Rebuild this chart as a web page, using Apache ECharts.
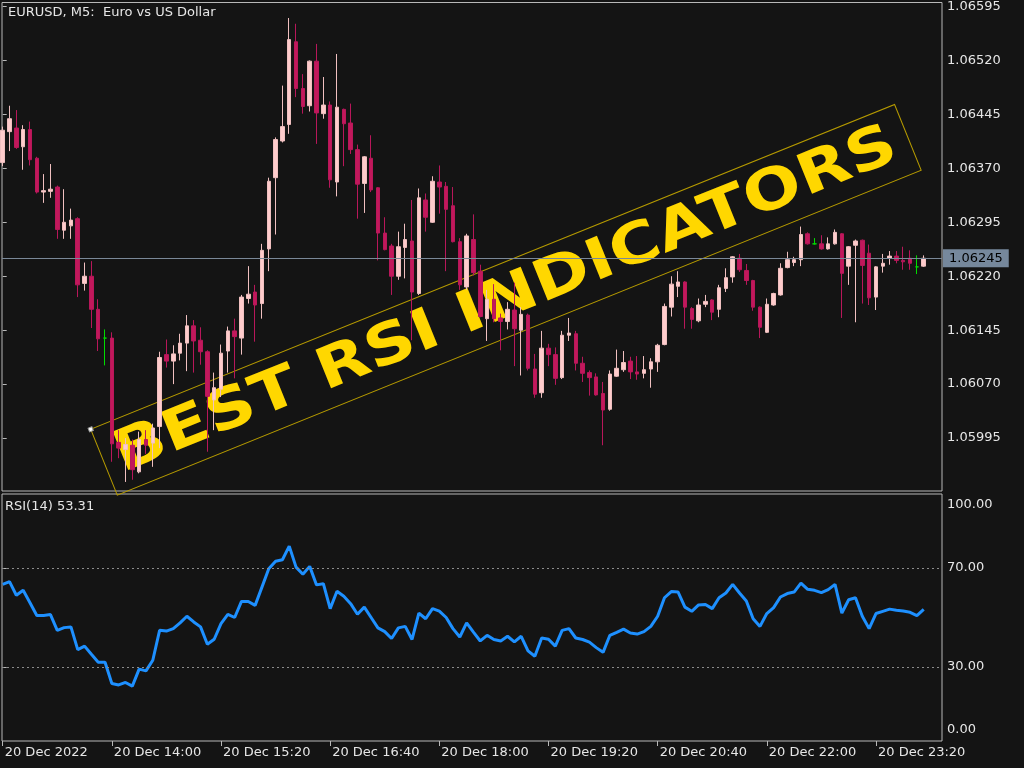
<!DOCTYPE html>
<html><head><meta charset="utf-8">
<style>html,body{margin:0;padding:0;background:#141414;}#c{width:1024px;height:768px;}</style>
<script src="https://cdn.jsdelivr.net/npm/echarts/dist/echarts.min.js"></script>
</head><body><div id="c"></div><script>
// EURUSD M5, 20 Dec 2022 12:40 .. 23:55 (136 bars)
const open = [
1.06378,1.06421,1.06426,1.06400,1.06424,1.06384,1.06337,1.06338,1.06344,1.06284,
1.06290,1.06300,1.06210,1.06220,1.06174,1.06134,1.06134,1.05989,1.05979,1.05985,
1.05948,1.05993,1.05988,1.06011,1.06111,1.06102,1.06113,1.06127,1.06151,1.06131,
1.06115,1.06048,1.06063,1.06116,1.06144,1.06134,1.06189,1.06198,1.06182,1.06258,
1.06357,1.06408,1.06431,1.06546,1.06481,1.06457,1.06519,1.06446,1.06458,1.06351,
1.06452,1.06433,1.06396,1.06349,1.06384,1.06343,1.06280,1.06262,1.06220,1.06260,
1.06269,1.06196,1.06326,1.06295,1.06351,1.06345,1.06318,1.06268,1.06205,1.06271,
1.06227,1.06161,1.06188,1.06162,1.06157,1.06173,1.06145,1.06166,1.06091,1.06058,
1.06120,1.06111,1.06079,1.06138,1.06140,1.06099,1.06086,1.06080,1.06057,1.06035,
1.06081,1.06090,1.06102,1.06087,1.06085,1.06091,1.06101,1.06125,1.06177,1.06206,
1.06212,1.06175,1.06158,1.06181,1.06187,1.06174,1.06203,1.06219,1.06245,1.06228,
1.06214,1.06177,1.06142,1.06180,1.06194,1.06232,1.06239,1.06243,1.06279,1.06265,
1.06265,1.06258,1.06265,1.06279,1.06234,1.06263,1.06270,1.06252,1.06191,1.06234,
1.06245,1.06248,1.06242,1.06245,1.06233,1.06234];
const close = [
1.06423,1.06439,1.06399,1.06424,1.06382,1.06337,1.06339,1.06341,1.06285,1.06295,
1.06298,1.06208,1.06220,1.06174,1.06133,1.06134,1.05987,1.05981,1.05986,1.05951,
1.05993,1.05985,1.06009,1.06107,1.06102,1.06112,1.06127,1.06151,1.06130,1.06115,
1.06053,1.06065,1.06113,1.06144,1.06136,1.06191,1.06195,1.06180,1.06256,1.06352,
1.06410,1.06428,1.06549,1.06481,1.06456,1.06519,1.06447,1.06458,1.06354,1.06455,
1.06432,1.06396,1.06348,1.06386,1.06340,1.06280,1.06257,1.06220,1.06261,1.06271,
1.06198,1.06329,1.06302,1.06352,1.06344,1.06313,1.06268,1.06208,1.06276,1.06225,
1.06164,1.06188,1.06161,1.06157,1.06174,1.06147,1.06167,1.06092,1.06056,1.06120,
1.06111,1.06078,1.06138,1.06141,1.06099,1.06085,1.06079,1.06055,1.06034,1.06084,
1.06092,1.06100,1.06087,1.06084,1.06090,1.06101,1.06124,1.06178,1.06209,1.06212,
1.06177,1.06160,1.06180,1.06185,1.06170,1.06204,1.06218,1.06247,1.06229,1.06214,
1.06177,1.06149,1.06181,1.06196,1.06231,1.06243,1.06243,1.06278,1.06265,1.06265,
1.06258,1.06265,1.06281,1.06224,1.06261,1.06269,1.06235,1.06190,1.06233,1.06238,
1.06248,1.06242,1.06240,1.06238,1.06233,1.06245];
const high = [
1.06428,1.06457,1.06451,1.06430,1.06435,1.06386,1.06362,1.06376,1.06346,1.06341,
1.06314,1.06302,1.06239,1.06241,1.06188,1.06146,1.06142,1.06006,1.05995,1.05993,
1.06004,1.06006,1.06015,1.06115,1.06132,1.06124,1.06140,1.06166,1.06159,1.06149,
1.06117,1.06086,1.06125,1.06150,1.06161,1.06194,1.06234,1.06208,1.06265,1.06357,
1.06413,1.06485,1.06579,1.06571,1.06501,1.06520,1.06543,1.06497,1.06463,1.06529,
1.06453,1.06460,1.06403,1.06387,1.06416,1.06344,1.06302,1.06265,1.06282,1.06293,
1.06326,1.06342,1.06335,1.06359,1.06374,1.06351,1.06344,1.06273,1.06279,1.06306,
1.06236,1.06201,1.06209,1.06168,1.06184,1.06211,1.06177,1.06168,1.06112,1.06144,
1.06126,1.06121,1.06144,1.06162,1.06144,1.06108,1.06089,1.06085,1.06073,1.06089,
1.06118,1.06116,1.06108,1.06109,1.06109,1.06106,1.06126,1.06182,1.06220,1.06227,
1.06213,1.06177,1.06189,1.06194,1.06188,1.06208,1.06231,1.06248,1.06251,1.06237,
1.06215,1.06178,1.06189,1.06197,1.06238,1.06254,1.06247,1.06289,1.06281,1.06273,
1.06277,1.06274,1.06285,1.06280,1.06262,1.06271,1.06271,1.06264,1.06234,1.06251,
1.06255,1.06255,1.06261,1.06256,1.06249,1.06249];
const low = [
1.06373,1.06394,1.06397,1.06368,1.06374,1.06335,1.06322,1.06329,1.06272,1.06272,
1.06272,1.06191,1.06200,1.06148,1.06116,1.06096,1.05962,1.05967,1.05934,1.05937,
1.05946,1.05973,1.05955,1.05981,1.06093,1.06070,1.06103,1.06088,1.06086,1.06097,
1.05976,1.06006,1.06052,1.06086,1.06078,1.06111,1.06182,1.06129,1.06161,1.06227,
1.06278,1.06406,1.06418,1.06469,1.06446,1.06449,1.06404,1.06439,1.06343,1.06331,
1.06373,1.06390,1.06300,1.06308,1.06337,1.06242,1.06256,1.06194,1.06215,1.06217,
1.06131,1.06194,1.06282,1.06294,1.06307,1.06227,1.06267,1.06201,1.06201,1.06221,
1.06163,1.06130,1.06156,1.06117,1.06146,1.06095,1.06082,1.06089,1.06051,1.06051,
1.06095,1.06069,1.06077,1.06130,1.06089,1.06073,1.06054,1.06054,1.05985,1.06033,
1.06080,1.06087,1.06077,1.06076,1.06078,1.06065,1.06087,1.06124,1.06164,1.06191,
1.06147,1.06147,1.06156,1.06177,1.06159,1.06163,1.06198,1.06211,1.06226,1.06208,
1.06172,1.06134,1.06141,1.06179,1.06193,1.06231,1.06234,1.06234,1.06264,1.06264,
1.06257,1.06257,1.06264,1.06162,1.06208,1.06156,1.06182,1.06180,1.06173,1.06225,
1.06236,1.06238,1.06229,1.06229,1.06223,1.06233];
const rsi = [
63.4,64.5,59.0,61.0,56.0,50.8,50.8,51.2,44.8,45.9,
46.2,37.0,38.4,35.1,31.9,31.9,23.3,22.7,23.7,22.2,
29.1,28.4,32.7,44.8,44.5,45.5,47.8,50.5,48.2,46.2,
39.2,41.2,47.5,51.3,50.0,56.5,56.5,54.9,62.3,69.7,
72.8,73.4,78.9,70.4,67.5,70.7,63.2,63.7,53.6,60.6,
58.6,55.6,51.3,54.2,50.0,45.8,44.3,41.5,45.8,46.4,
41.1,51.8,49.5,53.6,52.6,50.0,45.5,42.1,47.8,44.1,
40.5,42.8,41.1,40.5,42.4,40.1,42.4,36.5,34.3,41.7,
41.2,38.4,44.8,45.5,41.7,41.1,40.0,37.8,35.9,42.8,
44.0,45.3,43.7,43.3,44.3,46.4,50.5,58.0,60.5,60.3,
54.2,52.5,55.1,55.3,53.6,58.0,59.9,63.4,59.9,56.7,
49.5,46.4,51.6,54.0,58.3,59.7,60.3,63.9,61.4,61.0,
60.1,61.3,63.4,51.8,57.2,58.0,50.5,45.5,51.6,52.5,
53.4,52.9,52.6,52.1,50.8,53.31];

const xTickIndex = [0,16,32,48,64,80,96,112,128];
const xTickLabels = ['20 Dec 2022','20 Dec 14:00','20 Dec 15:20','20 Dec 16:40','20 Dec 18:00','20 Dec 19:20','20 Dec 20:40','20 Dec 22:00','20 Dec 23:20'];
const priceTicks = [1.05995,1.06070,1.06145,1.06220,1.06295,1.06370,1.06445,1.06520,1.06595];
const rsiLabelTicks = [0,30,70,100];
const rsiLevels = [30,70];

const FONT = 'DejaVu Sans';
const TXT = '#e6e6e6';
const BORDER = '#b8b8b8';
const X_MIN = -0.1026, X_MAX = 137.68;
const Y_MIN = 1.0592139, Y_MAX = 1.0660056;

const candleData = open.map((o, i) => {
  const v = [i, o, close[i], low[i], high[i]];
  if (o === close[i]) {
    return {value: v, itemStyle: {color: '#00dd00', color0: '#00dd00', borderColor: '#00dd00', borderColor0: '#00dd00'}};
  }
  return v;
});
const rsiData = rsi.map((v, i) => [i, v]);
const lastClose = close[close.length - 1];

const chart = echarts.init(document.getElementById('c'), null, {renderer: 'canvas'});
chart.setOption({
  backgroundColor: '#141414',
  animation: false,
  title: [
    {text: 'EURUSD, M5:  Euro vs US Dollar', left: 3, top: 1,
     textStyle: {color: TXT, fontSize: 13, fontWeight: 'normal', fontFamily: FONT}},
    {text: 'RSI(14) ' + rsi[rsi.length - 1].toFixed(2), left: 0, top: 495,
     textStyle: {color: TXT, fontSize: 13, fontWeight: 'normal', fontFamily: FONT}}
  ],
  grid: [
    {left: 2, top: 2, width: 940, height: 489, show: true, borderColor: BORDER, borderWidth: 1, backgroundColor: 'transparent'},
    {left: 2, top: 494, width: 940, height: 247, show: true, borderColor: BORDER, borderWidth: 1, backgroundColor: 'transparent'}
  ],
  xAxis: [
    {type: 'value', gridIndex: 0, min: X_MIN, max: X_MAX, show: false},
    {type: 'value', gridIndex: 1, min: X_MIN, max: X_MAX,
     axisLine: {show: false}, splitLine: {show: false},
     axisTick: {show: true, customValues: xTickIndex, length: 5, lineStyle: {color: BORDER}},
     axisLabel: {customValues: xTickIndex, formatter: v => xTickLabels[xTickIndex.indexOf(v)],
       align: 'left', margin: 5, padding: [0, 0, 0, 2], color: TXT, fontFamily: FONT, fontSize: 13}}
  ],
  yAxis: [
    {type: 'value', gridIndex: 0, position: 'right', min: Y_MIN, max: Y_MAX,
     axisLine: {show: false}, splitLine: {show: false},
     axisTick: {show: true, customValues: priceTicks, length: 4, lineStyle: {color: BORDER}},
     axisLabel: {customValues: priceTicks, formatter: v => v.toFixed(5), margin: 5,
       color: TXT, fontFamily: FONT, fontSize: 13}},
    {type: 'value', gridIndex: 1, position: 'right', min: 0, max: 100,
     axisLine: {show: false}, splitLine: {show: false},
     axisTick: {show: true, customValues: rsiLevels, length: 4, lineStyle: {color: BORDER}},
     axisLabel: {customValues: rsiLabelTicks, formatter: v => v.toFixed(2), margin: 5,
       lineHeight: 22, verticalAlignMinLabel: 'bottom', verticalAlignMaxLabel: 'top',
       color: TXT, fontFamily: FONT, fontSize: 13}}
  ],
  graphic: [{
    type: 'group', x: 90.7, y: 429.3, rotation: 22 * Math.PI / 180, z: 0,
    children: [
      {type: 'rect', shape: {x: 0, y: 0, width: 867, height: 71},
       style: {fill: 'none', stroke: '#b59a00', lineWidth: 1}},
      {type: 'text', x: 433, y: 37, scaleX: 1.2,
       style: {text: 'BEST RSI INDICATORS', fill: '#ffd700',
         font: 'bold 57px "DejaVu Sans"', align: 'center', verticalAlign: 'middle',
         textAlign: 'center', textVerticalAlign: 'middle'}},
      {type: 'rect', shape: {x: -2, y: -2, width: 4, height: 4},
       style: {fill: '#ffffff', stroke: '#999999', lineWidth: 1}}
    ]
  }],
  series: [
    {type: 'candlestick', xAxisIndex: 0, yAxisIndex: 0, data: candleData,
     encode: {x: 0, y: [1, 2, 3, 4]}, barWidth: 4,
     itemStyle: {color: '#ffcccc', color0: '#c2185b', borderColor: '#f0c0c0', borderColor0: '#b8175a', borderWidth: 1},
     markLine: {silent: true, symbol: 'none', animation: false, precision: 5,
       lineStyle: {color: '#7a8898', width: 1, type: 'solid'},
       label: {position: 'end', distance: 1, formatter: p => Number(p.value).toFixed(5),
         color: '#000', backgroundColor: '#76889c', padding: [3, 6, 2, 6], fontFamily: FONT, fontSize: 13},
       data: [{yAxis: lastClose}]}},
    {type: 'line', xAxisIndex: 1, yAxisIndex: 1, data: rsiData, symbol: 'none', showSymbol: false,
     lineStyle: {color: '#1e90ff', width: 3}, z: 3,
     markLine: {silent: true, symbol: 'none', animation: false, label: {show: false},
       lineStyle: {color: '#8c8c8c', type: [2, 3], width: 1},
       data: rsiLevels.map(v => ({yAxis: v}))}}
  ]
});
</script></body></html>
